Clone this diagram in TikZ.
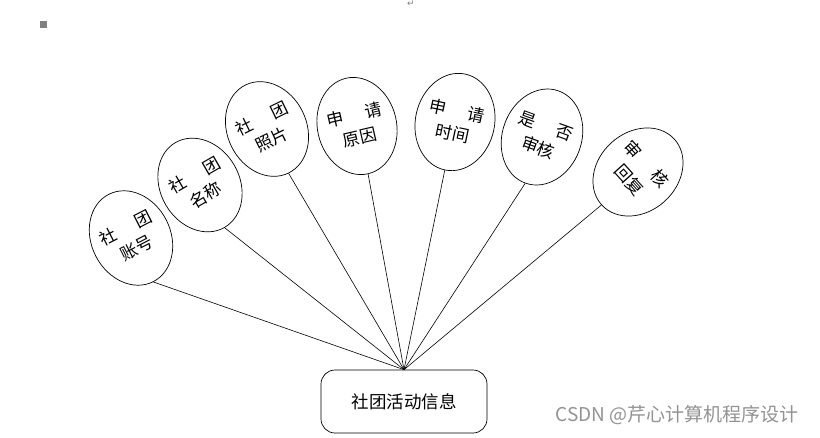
\documentclass[tikz,border=0pt]{standalone}
\usepackage{fontspec}
\setmainfont{Noto Sans CJK SC}
\newfontfamily\symfont{DejaVu Sans}
\usetikzlibrary{shapes.geometric}
\begin{document}
\begin{tikzpicture}[x=1pt,y=-1pt,
  ell/.style={draw,ellipse,line width=0.7pt,minimum width=72pt,minimum height=98pt,inner sep=0pt,align=center,
    font=\fontsize{17}{23}\selectfont},
  infobox/.style={draw,rectangle,rounded corners=14pt,line width=0.7pt,minimum width=166pt,minimum height=63pt,
    font=\fontsize{17.5}{20}\selectfont},
  link/.style={line width=0.6pt}]
\useasboundingbox (0,0) rectangle (820,437);
\fill[white] (0,0) rectangle (820,437);
\fill[gray] (40,21) rectangle (47,28);
\node[text=gray,font=\symfont\fontsize{9}{9}\selectfont,inner sep=0pt] (ret) at (411,4) {↵};
\node[ell,rotate=27] (e1) at (131,238) {社\hspace{22pt}团\\账号};
\node[ell,rotate=30] (e2) at (200,185) {社\hspace{22pt}团\\名称};
\node[ell,rotate=26] (e3) at (267,129) {社\hspace{22pt}团\\照片};
\node[ell,rotate=13] (e4) at (357,126) {申\hspace{22pt}请\\原因};
\node[ell,rotate=-12] (e5) at (455,122) {申\hspace{22pt}请\\时间};
\node[ell,rotate=-20] (e6) at (542,137) {是\hspace{22pt}否\\审核};
\node[ell,rotate=-48] (e7) at (638,172) {审\hspace{22pt}核\\回复};
\node[infobox] (box) at (404,401.5) {社团活动信息};
\foreach \e in {e1,e2,e3,e4,e5,e6,e7}{\draw[link] (\e.south) -- (box.north);}
\node[text=gray!85,font=\fontsize{19}{20}\selectfont,inner sep=0pt] (wm) at (677,415) {CSDN @芹心计算机程序设计};
\end{tikzpicture}
\end{document}
